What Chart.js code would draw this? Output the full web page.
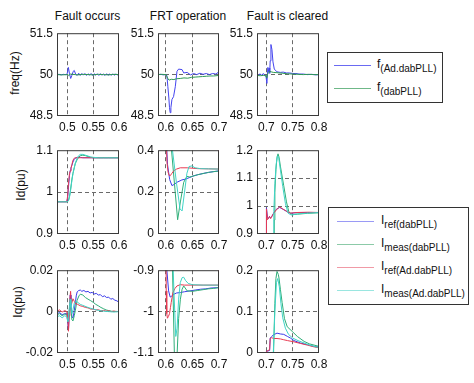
<!DOCTYPE html>
<html><head><meta charset="utf-8">
<script src="https://cdn.jsdelivr.net/npm/chart.js@4.4.0/dist/chart.umd.min.js"></script>
<style>
html,body{margin:0;padding:0;background:#fff;}
body{width:474px;height:383px;position:relative;overflow:hidden;font-family:"Liberation Sans",Arial,sans-serif;color:#111;}
canvas{position:absolute;}
.title{position:absolute;font-size:12px;line-height:14px;white-space:nowrap;transform:translateX(-50%);}
.ylab{position:absolute;font-size:12px;line-height:14px;white-space:nowrap;transform:translate(-50%,-50%) rotate(-90deg);}
.legend{position:absolute;box-sizing:border-box;border:1px solid #333;background:#fff;}
.lg-line{position:absolute;height:1px;width:37px;}
.lg-text{position:absolute;font-size:12px;line-height:14px;white-space:nowrap;}
.lg-text .sub{position:relative;top:4px;font-size:10px;}
</style></head><body>
<div class="title" style="left:87.5px;top:9px">Fault occurs</div>
<div class="title" style="left:188px;top:9px">FRT operation</div>
<div class="title" style="left:287.5px;top:9px">Fault is cleared</div>
<div class="ylab" style="left:15px;top:73px">freq(Hz)</div>
<div class="ylab" style="left:21px;top:185px">Id(pu)</div>
<div class="ylab" style="left:18px;top:302px">Iq(pu)</div>

<div class="legend" style="left:327px;top:52px;width:116px;height:51px;">
  <div class="lg-line" style="left:6px;top:12px;background:#6a6af2;"></div>
  <div class="lg-text" style="left:49px;top:4px;">f<span class="sub">(Ad.dabPLL)</span></div>
  <div class="lg-line" style="left:6px;top:35px;background:#6fb888;"></div>
  <div class="lg-text" style="left:49px;top:27px;">f<span class="sub">(dabPLL)</span></div>
</div>
<div class="legend" style="left:328px;top:207px;width:141px;height:98px;">
  <div class="lg-line" style="left:8px;top:13px;background:#9a9af5;"></div>
  <div class="lg-text" style="left:52px;top:5px;">I<span class="sub">ref(dabPLL)</span></div>
  <div class="lg-line" style="left:8px;top:36px;background:#8ccaa8;"></div>
  <div class="lg-text" style="left:52px;top:28px;">I<span class="sub">meas(dabPLL)</span></div>
  <div class="lg-line" style="left:8px;top:59px;background:#f09aa6;"></div>
  <div class="lg-text" style="left:52px;top:51px;">I<span class="sub">ref(Ad.dabPLL)</span></div>
  <div class="lg-line" style="left:8px;top:82px;background:#9ae6e0;"></div>
  <div class="lg-text" style="left:52px;top:74px;">I<span class="sub">meas(Ad.dabPLL)</span></div>
</div>

<script>
// ---------- axes: ranges & ticks ----------
const xRangeC1 = [0.48, 0.6], xRangeC2 = [0.585, 0.7], xRangeC3 = [0.682, 0.8];
const xTicksC1 = [0.5, 0.55, 0.6], xTickLabelsC1 = ['0.5', '0.55', '0.6'];
const xTicksC2 = [0.6, 0.65, 0.7], xTickLabelsC2 = ['0.6', '0.65', '0.7'];
const xTicksC3 = [0.7, 0.75, 0.8], xTickLabelsC3 = ['0.7', '0.75', '0.8'];
const yTicksFreq = [48.5, 50, 51.5], yTickLabelsFreq = ['48.5', '50', '51.5'];
const yTicksIdC1 = [0.9, 1, 1.1], yTickLabelsIdC1 = ['0.9', '1', '1.1'];
const yTicksIdC2 = [0, 0.2, 0.4], yTickLabelsIdC2 = ['0', '0.2', '0.4'];
const yTicksIdC3 = [0.9, 1, 1.1, 1.2], yTickLabelsIdC3 = ['0.9', '1', '1.1', '1.2'];
const yTicksIqC1 = [-0.02, 0, 0.02], yTickLabelsIqC1 = ['-0.02', '0', '0.02'];
const yTicksIqC2 = [-1.1, -1, -0.9], yTickLabelsIqC2 = ['-1.1', '-1', '-0.9'];
const yTicksIqC3 = [0, 0.1, 0.2], yTickLabelsIqC3 = ['0', '0.1', '0.2'];

// ---------- row 1: frequency ----------
const fAd_c1_t = [0.48,0.484,0.488,0.492,0.496,0.499,0.5005,0.502,0.504,0.5065,0.509,0.5115,0.5134,0.516,0.519,0.522,0.525,0.528,0.531,0.534,0.537,0.54,0.543,0.546,0.549,0.552,0.555,0.558,0.561,0.564,0.567,0.57,0.573,0.576,0.579,0.582,0.585,0.588,0.591,0.594,0.597,0.6];
const fAd_c1_v = [50.0,50.01,49.99,50.01,50.0,50.0,50.1,50.26,50.05,49.86,49.98,50.12,50.15,50.02,49.97,50.05,49.97,50.04,49.98,50.04,49.97,50.03,49.98,50.04,49.97,50.03,49.98,50.03,49.97,50.03,49.98,50.02,49.97,50.03,49.98,50.02,49.98,50.02,49.98,50.02,49.99,50.0];
const fDab_c1_t = [0.48,0.49,0.5,0.503,0.506,0.51,0.52,0.53,0.54,0.55,0.56,0.57,0.58,0.59,0.6];
const fDab_c1_v = [50.0,49.99,50.0,49.97,50.02,50.01,49.99,50.01,50.0,49.99,50.01,50.0,49.99,50.01,50.0];

const fAd_c2_t = [0.585,0.59,0.595,0.6,0.6017,0.6036,0.6055,0.6067,0.608,0.6093,0.6113,0.6143,0.6176,0.6208,0.6239,0.6304,0.6335,0.64,0.6463,0.652,0.658,0.664,0.67,0.676,0.682,0.688,0.694,0.698,0.7];
const fAd_c2_v = [50.0,50.01,49.99,50.0,49.97,49.56,49.15,48.8,48.62,48.8,49.1,49.2,49.56,50.12,50.2,50.18,50.06,50.08,49.99,50.04,50.0,50.05,50.01,50.04,50.0,50.04,50.02,50.07,50.15];
const fDab_c2_t = [0.585,0.592,0.6,0.602,0.604,0.606,0.61,0.615,0.62,0.627,0.634,0.641,0.648,0.655,0.662,0.669,0.676,0.683,0.69,0.7];
const fDab_c2_v = [50.0,50.01,50.0,49.92,49.84,49.8,49.83,49.82,49.85,49.86,49.88,49.87,49.9,49.91,49.92,49.93,49.94,49.95,49.95,49.97];

const fAd_c3_t = [0.682,0.685,0.688,0.691,0.694,0.697,0.699,0.7008,0.7027,0.704,0.7052,0.7062,0.7071,0.7085,0.7104,0.7124,0.7149,0.72,0.7265,0.732,0.738,0.744,0.75,0.756,0.762,0.77,0.778,0.786,0.794,0.8];
const fAd_c3_v = [50.02,49.98,50.03,49.97,50.04,49.97,49.95,49.68,50.26,50.1,50.24,50.05,50.5,51.09,50.91,50.46,50.2,50.1,50.08,50.09,50.06,50.06,50.04,50.04,50.02,50.02,50.0,50.01,49.99,50.0];
const fDab_c3_t = [0.682,0.688,0.694,0.699,0.7005,0.702,0.704,0.706,0.709,0.713,0.72,0.73,0.74,0.75,0.76,0.77,0.78,0.79,0.8];
const fDab_c3_v = [49.97,49.96,49.97,49.96,49.88,50.0,50.08,50.12,50.1,50.08,50.07,50.05,50.03,50.02,50.01,50.0,50.01,50.0,50.0];

// ---------- row 2: Id ----------
const IdRef_c1_t = [0.48,0.49,0.499,0.5005,0.5022,0.5042,0.5056,0.507,0.5089,0.5109,0.5134,0.5154,0.52,0.525,0.53,0.54,0.55,0.56,0.57,0.58,0.59,0.5995,0.6];
const IdRefDab_c1_v = [0.977,0.977,0.977,0.985,1.012,1.04,1.052,1.058,1.064,1.072,1.078,1.081,1.083,1.083,1.082,1.082,1.082,1.082,1.082,1.082,1.082,1.082,0.3];
const IdRefAd_c1_v = [0.977,0.977,0.977,0.99,1.02,1.045,1.05,1.056,1.066,1.076,1.081,1.082,1.082,1.082,1.082,1.082,1.082,1.082,1.082,1.082,1.082,1.082,0.3];
const IdMeas_c1_t = [0.48,0.49,0.5,0.5022,0.5042,0.5056,0.5089,0.5109,0.5134,0.5154,0.5188,0.522,0.5252,0.53,0.5351,0.54,0.5449,0.55,0.56,0.57,0.58,0.59,0.6];
const IdMeasDab_c1_v = [0.977,0.977,0.977,0.98,0.99,1.0,1.031,1.045,1.058,1.068,1.077,1.083,1.087,1.088,1.087,1.085,1.083,1.082,1.082,1.082,1.082,1.082,1.082];
const IdMeasAd_c1_v = [0.977,0.977,0.977,0.979,0.988,0.998,1.028,1.044,1.058,1.069,1.08,1.087,1.09,1.09,1.088,1.086,1.084,1.083,1.082,1.082,1.082,1.082,1.082];

const IdRefDab_c2_t = [0.585,0.5995,0.6,0.6005,0.603,0.607,0.6113,0.615,0.6208,0.63,0.6368,0.645,0.6528,0.66,0.67,0.68,0.69,0.6995,0.7];
const IdRefDab_c2_v = [1.082,1.082,1.0,0.45,0.33,0.26,0.231,0.236,0.247,0.258,0.262,0.27,0.278,0.283,0.289,0.294,0.298,0.301,0.8];
const IdRefAd_c2_t = [0.585,0.5995,0.6,0.6005,0.602,0.604,0.606,0.608,0.6113,0.615,0.62,0.627,0.64,0.65,0.66,0.68,0.6995,0.7];
const IdRefAd_c2_v = [1.082,1.082,0.9,0.45,0.34,0.295,0.28,0.278,0.29,0.302,0.31,0.316,0.316,0.314,0.312,0.311,0.31,0.9];
const IdMeasDab_c2_t = [0.585,0.6,0.6035,0.6105,0.622,0.6272,0.6335,0.6395,0.645,0.66,0.68,0.7];
const IdMeasDab_c2_v = [1.082,1.082,0.6,0.4,0.068,0.153,0.247,0.275,0.272,0.283,0.294,0.301];
const IdMeasAd_c2_t = [0.585,0.6,0.606,0.6113,0.62,0.6265,0.6304,0.635,0.6395,0.6435,0.649,0.655,0.665,0.68,0.7];
const IdMeasAd_c2_v = [1.082,1.082,0.6,0.42,0.24,0.12,0.11,0.2,0.29,0.322,0.325,0.316,0.312,0.311,0.31];

const IdRefDab_c3_t = [0.682,0.6995,0.7,0.7019,0.704,0.7058,0.7075,0.71,0.7135,0.717,0.72,0.7251,0.73,0.7395,0.7458,0.7588,0.7781,0.8];
const IdRefDab_c3_v = [0.3,0.3,0.994,0.96,0.955,0.963,0.958,0.962,0.974,0.985,0.99,0.995,0.99,0.98,0.974,0.977,0.977,0.977];
const IdRefAd_c3_t = [0.682,0.6995,0.7,0.7019,0.704,0.7058,0.708,0.7135,0.7201,0.7251,0.73,0.7395,0.7458,0.76,0.78,0.8];
const IdRefAd_c3_v = [0.3,0.3,0.99,0.951,0.958,0.963,0.955,0.974,0.989,0.997,0.991,0.98,0.975,0.977,0.978,0.977];
const IdMeasDab_c3_t = [0.682,0.714,0.7149,0.716,0.718,0.7201,0.722,0.724,0.7265,0.7329,0.7381,0.7425,0.7491,0.7588,0.7781,0.8];
const IdMeasDab_c3_v = [0.31,0.31,0.95,1.05,1.13,1.175,1.187,1.175,1.143,1.073,1.015,0.98,0.969,0.971,0.974,0.976];
const IdMeasAd_c3_t = [0.682,0.7135,0.714,0.716,0.7185,0.721,0.7235,0.7265,0.731,0.736,0.741,0.747,0.76,0.78,0.8];
const IdMeasAd_c3_v = [0.31,0.31,0.98,1.08,1.15,1.18,1.17,1.13,1.07,1.01,0.975,0.968,0.972,0.975,0.977];

// ---------- row 3: Iq ----------
const IqRefDab_c1_t = [0.48,0.485,0.49,0.495,0.499,0.5011,0.5022,0.5042,0.5056,0.507,0.5089,0.511,0.5134,0.5154,0.5172,0.519,0.522,0.5252,0.528,0.532,0.536,0.54,0.544,0.548,0.552,0.556,0.56,0.564,0.568,0.572,0.576,0.58,0.584,0.588,0.592,0.596,0.5995,0.6];
const IqRefDab_c1_v = [-0.001,-0.0005,-0.0015,-0.001,-0.001,-0.006,-0.009,0.002,0.008,0.003,-0.0026,-0.003,0.0004,0.004,0.0076,0.0095,0.0102,0.0104,0.0098,0.0102,0.0095,0.0098,0.009,0.0093,0.0085,0.0088,0.008,0.0082,0.0072,0.0076,0.0068,0.007,0.006,0.0063,0.0055,0.0052,0.0045,-0.5];
const IqRefAd_c1_t = [0.48,0.485,0.49,0.495,0.499,0.5011,0.5022,0.5035,0.5049,0.5063,0.5077,0.509,0.5109,0.5134,0.516,0.52,0.525,0.53,0.535,0.54,0.545,0.55,0.555,0.56,0.565,0.57,0.575,0.58,0.585,0.59,0.595,0.5995,0.6];
const IqRefAd_c1_v = [0.0003,0.0008,-0.0002,0.0005,0.0,-0.004,-0.0095,-0.002,0.006,0.0098,0.004,0.0045,0.0062,0.005,0.0038,0.0035,0.0028,0.0025,0.002,0.0018,0.0012,0.0012,0.0008,0.0009,0.0004,0.0006,0.0002,0.0004,0.0,0.0003,0.0,0.0001,-0.5];
const IqMeasDab_c1_t = [0.48,0.485,0.49,0.495,0.499,0.5022,0.5056,0.5089,0.511,0.5134,0.5154,0.5188,0.5225,0.5252,0.53,0.535,0.54,0.545,0.55,0.555,0.56,0.565,0.57,0.575,0.58,0.585,0.59,0.595,0.6];
const IqMeasDab_c1_v = [-0.0015,-0.001,-0.002,-0.0012,-0.0015,-0.003,0.004,-0.004,-0.0045,-0.002,0.0004,0.0054,0.0076,0.0084,0.008,0.0068,0.006,0.0053,0.0045,0.0035,0.0028,0.002,0.0014,0.0008,0.0005,0.0002,0.0,0.0001,0.0];
const IqMeasAd_c1_t = [0.48,0.485,0.49,0.495,0.499,0.5011,0.5022,0.5042,0.5056,0.507,0.5089,0.511,0.5134,0.516,0.52,0.525,0.53,0.54,0.55,0.56,0.57,0.58,0.59,0.6];
const IqMeasAd_c1_v = [-0.0025,-0.002,-0.003,-0.002,-0.0025,-0.005,-0.004,0.003,0.006,0.002,-0.001,0.001,0.004,0.005,0.0045,0.0035,0.003,0.002,0.0012,0.0006,0.0002,0.0,-0.0002,0.0];

const IqRefDab_c2_t = [0.585,0.5995,0.6,0.6017,0.605,0.608,0.6113,0.615,0.62,0.6272,0.635,0.645,0.655,0.665,0.675,0.685,0.6995,0.7];
const IqRefDab_c2_v = [0.005,0.0045,-0.7,-0.9,-0.95,-0.965,-0.962,-0.958,-0.955,-0.954,-0.952,-0.95,-0.948,-0.946,-0.945,-0.943,-0.942,-0.5];
const IqRefAd_c2_t = [0.585,0.5995,0.6,0.6005,0.6015,0.6028,0.6045,0.6067,0.6085,0.6099,0.6132,0.617,0.6208,0.6272,0.635,0.65,0.67,0.6995,0.7];
const IqRefAd_c2_v = [0.0,0.0,-0.8,-0.95,-1.005,-1.016,-1.012,-1.005,-0.99,-0.978,-0.954,-0.944,-0.938,-0.935,-0.936,-0.936,-0.936,-0.936,-0.5];
const IqMeasDab_c2_t = [0.585,0.6,0.604,0.609,0.6124,0.6162,0.6185,0.6208,0.6239,0.6272,0.6304,0.6335,0.64,0.65,0.66,0.67,0.68,0.69,0.7];
const IqMeasDab_c2_v = [0.0,0.0,-0.3,-0.8,-0.9,-1.12,-1.14,-1.11,-1.017,-0.97,-0.946,-0.938,-0.95,-0.951,-0.949,-0.947,-0.945,-0.944,-0.942];
const IqMeasAd_c2_t = [0.585,0.6,0.606,0.611,0.615,0.6185,0.621,0.6239,0.627,0.6304,0.6335,0.637,0.642,0.65,0.67,0.7];
const IqMeasAd_c2_v = [0.0,0.0,-0.4,-0.8,-0.95,-1.06,-1.04,-0.97,-0.93,-0.918,-0.917,-0.925,-0.932,-0.935,-0.936,-0.936];

const IqRefDab_c3_t = [0.682,0.6995,0.7,0.703,0.706,0.7071,0.71,0.7135,0.7201,0.7265,0.7329,0.74,0.7458,0.7524,0.7588,0.765,0.7781,0.79,0.8];
const IqRefDab_c3_v = [-0.942,-0.942,0.004,0.005,0.006,0.036,0.04,0.044,0.048,0.046,0.045,0.04,0.036,0.03,0.027,0.024,0.02,0.016,0.014];
const IqRefAd_c3_t = [0.682,0.6995,0.7,0.703,0.706,0.7071,0.71,0.7135,0.7201,0.7265,0.7329,0.74,0.7524,0.765,0.7781,0.79,0.8];
const IqRefAd_c3_v = [-0.936,-0.936,0.004,0.006,0.008,0.035,0.037,0.035,0.035,0.034,0.032,0.03,0.027,0.023,0.019,0.015,0.0125];
const IqMeasDab_c3_t = [0.682,0.713,0.7135,0.716,0.718,0.7201,0.7225,0.7239,0.7265,0.7298,0.7343,0.7395,0.7491,0.7588,0.7717,0.782,0.8];
const IqMeasDab_c3_v = [-0.942,-0.942,0.0,0.12,0.18,0.197,0.19,0.181,0.154,0.122,0.083,0.0635,0.052,0.04,0.028,0.022,0.016];
const IqMeasAd_c3_t = [0.682,0.7125,0.713,0.716,0.719,0.7215,0.7245,0.7275,0.731,0.736,0.742,0.75,0.76,0.78,0.8];
const IqMeasAd_c3_v = [-0.936,-0.936,0.0,0.1,0.17,0.18,0.16,0.12,0.085,0.06,0.045,0.036,0.03,0.02,0.013];

// ---------- styling ----------
const COL = { fAd:'#4444ee', fDab:'#2f9a55', refDab:'#3b3bea', measDab:'#2fae78', refAd:'#e83a52', measAd:'#3fd4c6' };
const FONT = { family: "'Liberation Sans', Arial, sans-serif", size: 12 };
const COLS = [{l:57, r:118}, {l:158, r:218}, {l:257, r:318}];
const ROWS = [{t:30, b:115}, {t:147, b:233}, {t:267, b:352}];
const AXW = 50, PADT = 8, PADR = 14, AXH = 22;

function series(t, v, color, order) {
  const n = Math.min(t.length, v.length);
  const pts = [];
  for (let i = 0; i < n; i++) pts.push({ x: t[i], y: v[i] });
  return { data: pts, borderColor: color, borderWidth: 1, pointRadius: 0, tension: 0, fill: false, order };
}

const framePlugin = {
  id: 'frame',
  afterDatasetsDraw(chart) {
    const { ctx, chartArea: a } = chart;
    ctx.save();
    ctx.strokeStyle = '#3a3a3a';
    ctx.lineWidth = 1;
    ctx.strokeRect(a.left + 0.5, a.top + 0.5, a.right - a.left - 1, a.bottom - a.top - 1);
    ctx.restore();
  }
};

function gridColor(min, max) {
  return (c) => {
    const v = c.tick ? c.tick.value : null;
    if (v === null) return 'rgba(0,0,0,0)';
    const eps = (max - min) * 1e-6;
    return (v > min + eps && v < max - eps) ? '#6a6a6a' : 'rgba(0,0,0,0)';
  };
}

function panel(row, col, xr, xt, xl, yr, yt, yl, datasets) {
  const R = ROWS[row], C = COLS[col];
  const w = C.r - C.l + 1, h = R.b - R.t + 1;
  const cv = document.createElement('canvas');
  cv.width = AXW + w + PADR; cv.height = PADT + h + AXH;
  cv.style.left = (C.l - AXW) + 'px'; cv.style.top = (R.t - PADT) + 'px';
  cv.style.width = cv.width + 'px'; cv.style.height = cv.height + 'px';
  document.body.appendChild(cv);
  new Chart(cv.getContext('2d'), {
    type: 'line',
    data: { datasets },
    options: {
      responsive: false, maintainAspectRatio: false, animation: false, devicePixelRatio: 1,
      layout: { padding: { left: 0, top: PADT, right: PADR, bottom: 0 } },
      plugins: { legend: { display: false }, tooltip: { enabled: false }, title: { display: false } },
      scales: {
        x: {
          type: 'linear', min: xr[0], max: xr[1],
          afterBuildTicks: (s) => { s.ticks = xt.map(v => ({ value: v })); },
          afterFit: (s) => { s.height = AXH; },
          ticks: { autoSkip: false, maxRotation: 0, minRotation: 0, padding: 4, color: '#111', font: FONT,
                   callback: (v, i) => xl[i] },
          grid: { drawTicks: false, lineWidth: 1, color: gridColor(xr[0], xr[1]) },
          border: { display: false, dash: [4, 3] }
        },
        y: {
          type: 'linear', min: yr[0], max: yr[1],
          afterBuildTicks: (s) => { s.ticks = yt.map(v => ({ value: v })); },
          afterFit: (s) => { s.width = AXW; },
          ticks: { autoSkip: false, padding: 4, color: '#111', font: FONT, callback: (v, i) => yl[i] },
          grid: { drawTicks: false, lineWidth: 1, color: gridColor(yr[0], yr[1]) },
          border: { display: false, dash: [4, 3] }
        }
      }
    },
    plugins: [framePlugin]
  });
}

const yFreq = [48.5, 51.5];
panel(0, 0, xRangeC1, xTicksC1, xTickLabelsC1, yFreq, yTicksFreq, yTickLabelsFreq, [
  series(fDab_c1_t, fDab_c1_v, COL.fDab, 1), series(fAd_c1_t, fAd_c1_v, COL.fAd, 2)]);
panel(0, 1, xRangeC2, xTicksC2, xTickLabelsC2, yFreq, yTicksFreq, yTickLabelsFreq, [
  series(fDab_c2_t, fDab_c2_v, COL.fDab, 1), series(fAd_c2_t, fAd_c2_v, COL.fAd, 2)]);
panel(0, 2, xRangeC3, xTicksC3, xTickLabelsC3, yFreq, yTicksFreq, yTickLabelsFreq, [
  series(fDab_c3_t, fDab_c3_v, COL.fDab, 1), series(fAd_c3_t, fAd_c3_v, COL.fAd, 2)]);

panel(1, 0, xRangeC1, xTicksC1, xTickLabelsC1, [0.9, 1.1], yTicksIdC1, yTickLabelsIdC1, [
  series(IdRef_c1_t, IdRefDab_c1_v, COL.refDab, 4), series(IdMeas_c1_t, IdMeasDab_c1_v, COL.measDab, 3),
  series(IdRef_c1_t, IdRefAd_c1_v, COL.refAd, 2), series(IdMeas_c1_t, IdMeasAd_c1_v, COL.measAd, 1)]);
panel(1, 1, xRangeC2, xTicksC2, xTickLabelsC2, [0, 0.4], yTicksIdC2, yTickLabelsIdC2, [
  series(IdRefDab_c2_t, IdRefDab_c2_v, COL.refDab, 4), series(IdMeasDab_c2_t, IdMeasDab_c2_v, COL.measDab, 3),
  series(IdRefAd_c2_t, IdRefAd_c2_v, COL.refAd, 2), series(IdMeasAd_c2_t, IdMeasAd_c2_v, COL.measAd, 1)]);
panel(1, 2, xRangeC3, xTicksC3, xTickLabelsC3, [0.9, 1.2], yTicksIdC3, yTickLabelsIdC3, [
  series(IdRefDab_c3_t, IdRefDab_c3_v, COL.refDab, 4), series(IdMeasDab_c3_t, IdMeasDab_c3_v, COL.measDab, 3),
  series(IdRefAd_c3_t, IdRefAd_c3_v, COL.refAd, 2), series(IdMeasAd_c3_t, IdMeasAd_c3_v, COL.measAd, 1)]);

panel(2, 0, xRangeC1, xTicksC1, xTickLabelsC1, [-0.02, 0.02], yTicksIqC1, yTickLabelsIqC1, [
  series(IqRefDab_c1_t, IqRefDab_c1_v, COL.refDab, 4), series(IqMeasDab_c1_t, IqMeasDab_c1_v, COL.measDab, 3),
  series(IqRefAd_c1_t, IqRefAd_c1_v, COL.refAd, 2), series(IqMeasAd_c1_t, IqMeasAd_c1_v, COL.measAd, 1)]);
panel(2, 1, xRangeC2, xTicksC2, xTickLabelsC2, [-1.1, -0.9], yTicksIqC2, yTickLabelsIqC2, [
  series(IqRefDab_c2_t, IqRefDab_c2_v, COL.refDab, 4), series(IqMeasDab_c2_t, IqMeasDab_c2_v, COL.measDab, 3),
  series(IqRefAd_c2_t, IqRefAd_c2_v, COL.refAd, 2), series(IqMeasAd_c2_t, IqMeasAd_c2_v, COL.measAd, 1)]);
panel(2, 2, xRangeC3, xTicksC3, xTickLabelsC3, [0, 0.2], yTicksIqC3, yTickLabelsIqC3, [
  series(IqRefDab_c3_t, IqRefDab_c3_v, COL.refDab, 4), series(IqMeasDab_c3_t, IqMeasDab_c3_v, COL.measDab, 3),
  series(IqRefAd_c3_t, IqRefAd_c3_v, COL.refAd, 2), series(IqMeasAd_c3_t, IqMeasAd_c3_v, COL.measAd, 1)]);
</script>
</body></html>
